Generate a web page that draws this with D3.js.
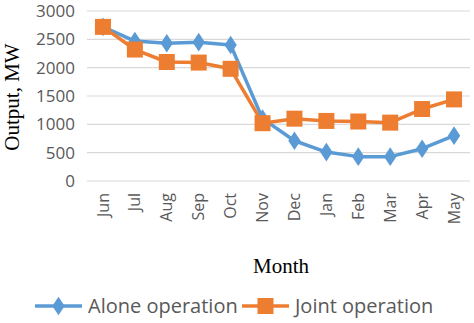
<!DOCTYPE html>
<html><head><meta charset="utf-8">
<script src="https://cdn.jsdelivr.net/npm/d3@7"></script>
<style>body{margin:0;background:#fff}</style>
</head><body>
<svg id="c" width="474" height="323"></svg>
<script>
const months = ["Jun","Jul","Aug","Sep","Oct","Nov","Dec","Jan","Feb","Mar","Apr","May"];
const alone = [2720,2470,2430,2450,2400,1100,710,510,430,430,570,800];
const joint = [2720,2320,2100,2090,1980,1020,1100,1060,1050,1030,1270,1440];
const yTicks = [0,500,1000,1500,2000,2500,3000];
const seriesNames = ["Alone operation","Joint operation"];
const colors = ["#5B9BD5","#ED7D31"];

const svg = d3.select("#c");
const m = {l:87, r:470, t:11, b:181};
const x = d3.scaleBand().domain(months).range([m.l, m.r]);
const y = d3.scaleLinear().domain([0,3000]).range([m.b, m.t]);

// gridlines
svg.append("g").selectAll("line").data(yTicks).join("line")
  .attr("x1", m.l).attr("x2", m.r)
  .attr("y1", d=>y(d)).attr("y2", d=>y(d))
  .attr("stroke", "#d9d9d9").attr("stroke-width", 1.2);

// y axis labels
const yAxis = d3.axisLeft(y).tickValues(yTicks).tickFormat(d3.format("d")).tickSize(0).tickPadding(0);
const gy = svg.append("g").attr("transform", `translate(${m.l-12},0)`).call(yAxis);
gy.select(".domain").remove();
gy.selectAll("text").attr("font-family","'Open Sans', sans-serif").attr("font-size", 17).attr("fill","#595959");

// x axis labels
const xAxis = d3.axisBottom(x).tickSize(0).tickPadding(0);
const gx = svg.append("g").attr("transform", `translate(0,${m.b})`).call(xAxis);
gx.select(".domain").remove();
gx.selectAll("text")
  .attr("font-family","'Open Sans', sans-serif").attr("font-size", 16).attr("fill","#595959")
  .attr("transform","rotate(-90)")
  .attr("text-anchor","end")
  .attr("x", -12).attr("y", 0).attr("dy","0.35em");

const cx = d => x(d) + x.bandwidth()/2;
const line = d3.line().x((d,i)=>cx(months[i])).y(d=>y(d));

[alone, joint].forEach((s, k) => {
  svg.append("path").datum(s).attr("d", line)
    .attr("fill","none").attr("stroke", colors[k]).attr("stroke-width", 3.5)
    .attr("stroke-linejoin","round");
});
// markers
const diamond = d3.symbol().type(d3.symbolDiamond).size(100);
svg.append("g").selectAll("path").data(alone).join("path")
  .attr("d", diamond).attr("fill", colors[0])
  .attr("transform", (d,i)=>`translate(${cx(months[i])},${y(d)}) scale(1.15,1)`);
svg.append("g").selectAll("rect").data(joint).join("rect")
  .attr("x",(d,i)=>cx(months[i])-8).attr("y", d=>y(d)-8)
  .attr("width",16).attr("height",16).attr("fill", colors[1]);

// axis titles
svg.append("text").attr("transform","translate(19,97) rotate(-90)")
  .attr("text-anchor","middle").attr("font-family","'Liberation Serif', serif")
  .attr("font-size", 21).attr("fill","#000").text("Output, MW");
svg.append("text").attr("x", 281).attr("y", 273)
  .attr("text-anchor","middle").attr("font-family","'Liberation Serif', serif")
  .attr("font-size", 21).attr("fill","#000").text("Month");

// legend
const leg = [{x1:35, tx:88},{x1:242, tx:295}];
leg.forEach((L,k)=>{
  const g = svg.append("g");
  g.append("line").attr("x1",L.x1).attr("x2",L.x1+47).attr("y1",306).attr("y2",306)
    .attr("stroke",colors[k]).attr("stroke-width",3.5);
  if(k===0){
    g.append("path").attr("d", diamond).attr("fill",colors[0])
      .attr("transform",`translate(${L.x1+23.5},306) scale(1.15,1)`);
  } else {
    g.append("rect").attr("x",L.x1+23.5-8).attr("y",298).attr("width",16).attr("height",16).attr("fill",colors[1]);
  }
  g.append("text").attr("x",L.tx).attr("y",306).attr("dy","0.35em")
    .attr("font-family","'Open Sans', sans-serif").attr("font-size",20).attr("fill","#595959")
    .text(seriesNames[k]);
});
</script>
</body></html>
